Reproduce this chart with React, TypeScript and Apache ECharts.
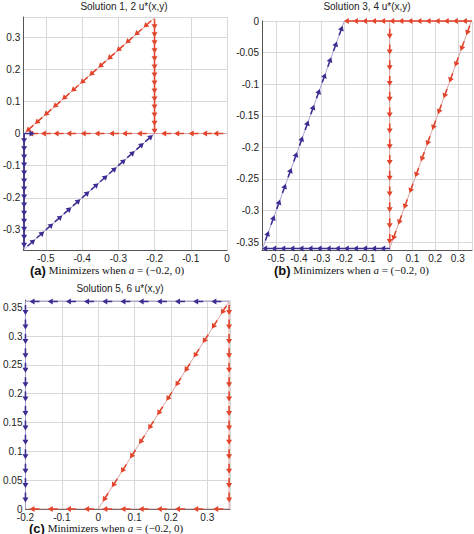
import React, { useEffect, useRef } from "react";
import * as echarts from "echarts";

// ---------- styling constants ----------
const RED = "#e2452c";
const BLUE = "#3b2d92";
const RED_LINE = "#d9a7a3";
const BLUE_LINE = "#aaa5d2";
const ARROW = "path://M5 0 L10 8 L6.3 8 L6.3 16 L3.7 16 L3.7 8 L0 8 Z";

// ---------- titles / captions ----------
const titles = ["Solution 1, 2 u*(x,y)", "Solution 3, 4 u*(x,y)", "Solution 5, 6 u*(x,y)"];
const panelTags = ["(a)", "(b)", "(c)"];

// ---------- panel (a) ----------
const aRedPath = [[0, 0], [-0.56, 0], [-0.2, 0.36], [-0.2, 0]];
const aBluePath = [[-0.53, 0], [-0.56, 0], [-0.56, -0.36], [-0.2, 0]];
const aRedHoriz = [[-0.535, 0], [-0.5, 0], [-0.465, 0], [-0.43, 0], [-0.39, 0], [-0.352, 0], [-0.312, 0], [-0.276, 0], [-0.235, 0], [-0.168, 0], [-0.132, 0], [-0.092, 0], [-0.055, 0], [-0.024, 0]];
const aRedVert = [[-0.2, 0.34], [-0.2, 0.315], [-0.2, 0.29], [-0.2, 0.265], [-0.2, 0.24], [-0.2, 0.215], [-0.2, 0.19], [-0.2, 0.165], [-0.2, 0.14], [-0.2, 0.115], [-0.2, 0.09], [-0.2, 0.065], [-0.2, 0.04], [-0.2, 0.015]];
const aRedDiag = [[-0.545, 0.015], [-0.52, 0.04], [-0.495, 0.065], [-0.47, 0.09], [-0.445, 0.115], [-0.42, 0.14], [-0.395, 0.165], [-0.37, 0.19], [-0.345, 0.215], [-0.32, 0.24], [-0.295, 0.265], [-0.27, 0.29], [-0.245, 0.315], [-0.22, 0.34]];
const aBlueVert = [[-0.56, -0.015], [-0.56, -0.04], [-0.56, -0.065], [-0.56, -0.09], [-0.56, -0.115], [-0.56, -0.14], [-0.56, -0.165], [-0.56, -0.19], [-0.56, -0.215], [-0.56, -0.24], [-0.56, -0.265], [-0.56, -0.29], [-0.56, -0.315], [-0.56, -0.34]];
const aBlueDiag = [[-0.215, -0.015], [-0.24, -0.04], [-0.265, -0.065], [-0.29, -0.09], [-0.315, -0.115], [-0.34, -0.14], [-0.365, -0.165], [-0.39, -0.19], [-0.415, -0.215], [-0.44, -0.24], [-0.465, -0.265], [-0.49, -0.29], [-0.515, -0.315], [-0.54, -0.34]];
const aBlueStub = [[-0.545, 0]];

// ---------- panel (b) ----------
const bRedPath = [[-0.2, 0], [0.36, 0], [0, -0.36], [0, 0]];
const bBluePath = [[-0.2, 0], [-0.56, -0.36], [0, -0.36]];
const bRedHoriz = [[-0.18, 0], [-0.14, 0], [-0.1, 0], [-0.06, 0], [-0.02, 0], [0.02, 0], [0.06, 0], [0.1, 0], [0.14, 0], [0.18, 0], [0.22, 0], [0.26, 0], [0.3, 0], [0.34, 0]];
const bRedVert = [[0, -0.02], [0, -0.045], [0, -0.07], [0, -0.095], [0, -0.12], [0, -0.145], [0, -0.17], [0, -0.195], [0, -0.22], [0, -0.245], [0, -0.27], [0, -0.295], [0, -0.32], [0, -0.345]];
const bRedDiag = [[0.345, -0.015], [0.32, -0.04], [0.295, -0.065], [0.27, -0.09], [0.245, -0.115], [0.22, -0.14], [0.195, -0.165], [0.17, -0.19], [0.145, -0.215], [0.12, -0.24], [0.095, -0.265], [0.07, -0.29], [0.045, -0.315], [0.02, -0.34]];
const bBlueDiag = [[-0.215, -0.015], [-0.24, -0.04], [-0.265, -0.065], [-0.29, -0.09], [-0.315, -0.115], [-0.34, -0.14], [-0.365, -0.165], [-0.39, -0.19], [-0.415, -0.215], [-0.44, -0.24], [-0.465, -0.265], [-0.49, -0.29], [-0.515, -0.315], [-0.54, -0.34]];
const bBlueHoriz = [[-0.54, -0.36], [-0.5, -0.36], [-0.46, -0.36], [-0.42, -0.36], [-0.38, -0.36], [-0.34, -0.36], [-0.3, -0.36], [-0.26, -0.36], [-0.22, -0.36], [-0.18, -0.36], [-0.14, -0.36], [-0.1, -0.36], [-0.06, -0.36], [-0.02, -0.36]];

// ---------- panel (c) ----------
const cBluePath = [[0.36, 0.36], [-0.2, 0.36], [-0.2, 0]];
const cRedPath = [[0, 0], [0.36, 0.36], [0.36, 0], [-0.2, 0]];
const cBlueHoriz = [[-0.175, 0.36], [-0.125, 0.36], [-0.075, 0.36], [-0.025, 0.36], [0.025, 0.36], [0.075, 0.36], [0.125, 0.36], [0.175, 0.36], [0.225, 0.36], [0.275, 0.36], [0.325, 0.36]];
const cBlueVert = [[-0.2, 0.345], [-0.2, 0.32], [-0.2, 0.295], [-0.2, 0.27], [-0.2, 0.245], [-0.2, 0.22], [-0.2, 0.195], [-0.2, 0.17], [-0.2, 0.145], [-0.2, 0.12], [-0.2, 0.095], [-0.2, 0.07], [-0.2, 0.045], [-0.2, 0.02]];
const cRedVert = [[0.36, 0.345], [0.36, 0.32], [0.36, 0.295], [0.36, 0.27], [0.36, 0.245], [0.36, 0.22], [0.36, 0.195], [0.36, 0.17], [0.36, 0.145], [0.36, 0.12], [0.36, 0.095], [0.36, 0.07], [0.36, 0.045], [0.36, 0.02]];
const cRedHoriz = [[-0.175, 0], [-0.125, 0], [-0.075, 0], [-0.025, 0], [0.025, 0], [0.075, 0], [0.125, 0], [0.175, 0], [0.225, 0], [0.275, 0], [0.33, 0]];
const cRedDiag = [[0.02, 0.02], [0.045, 0.045], [0.07, 0.07], [0.095, 0.095], [0.12, 0.12], [0.145, 0.145], [0.17, 0.17], [0.195, 0.195], [0.22, 0.22], [0.245, 0.245], [0.27, 0.27], [0.295, 0.295], [0.32, 0.32], [0.345, 0.345]];

// axis extents
const xExt = [[-0.5625, 0], [-0.5625, 0.3625], [-0.2, 0.3625]];
const yExt = [[-0.3625, 0.3625], [-0.3625, 0], [0, 0.3625]];
const xSplit = [5, 9, 5];
const ySplit = [7, 7, 7];

const FONT = "'Liberation Sans', Arial, sans-serif";
const SERIF = "'Liberation Serif', 'DejaVu Serif', serif";

function pathSeries(idx: number, data: number[][], color: string) {
  return {
    type: "line",
    xAxisIndex: idx,
    yAxisIndex: idx,
    data,
    showSymbol: false,
    symbol: "none",
    lineStyle: { color, width: 1 },
    silent: true,
    z: 2,
  };
}

function arrowSeries(idx: number, data: number[][], color: string, rotate: number) {
  return {
    type: "scatter",
    xAxisIndex: idx,
    yAxisIndex: idx,
    data,
    symbol: ARROW,
    symbolSize: [6, 10],
    symbolRotate: rotate,
    itemStyle: { color, opacity: 1 },
    silent: true,
    z: 3,
  };
}

const LEFT = 90;
const DOWN = 180;
const RIGHT = -90;

export default function App() {
  const ref = useRef<HTMLDivElement>(null);
  useEffect(() => {
    if (!ref.current) return;
    const chart = echarts.init(ref.current, undefined, { renderer: "svg" });
    const grids = [
      { left: 19, top: 17, width: 208, height: 233 },
      { left: 262, top: 21, width: 210, height: 229 },
      { left: 20, top: 300, width: 210, height: 209 },
    ];
    const axisCommon = {
      axisLine: { show: true, onZero: false, lineStyle: { color: "#555", width: 1 } },
      axisTick: { show: false },
      splitLine: { show: true, lineStyle: { color: "#d8d8d8", width: 1 } },
    };
    const xAxis = [0, 1, 2].map((i) => ({
      type: "value",
      gridIndex: i,
      min: xExt[i][0],
      max: xExt[i][1],
      splitNumber: xSplit[i],
      ...axisCommon,
      axisLabel: {
        color: "#222",
        fontSize: 10,
        fontFamily: FONT,
        margin: 3,
        showMinLabel: i === 2,
        showMaxLabel: i === 0,
      },
    }));
    const yAxis = [0, 1, 2].map((i) => ({
      type: "value",
      gridIndex: i,
      min: yExt[i][0],
      max: yExt[i][1],
      splitNumber: ySplit[i],
      ...axisCommon,
      axisLabel: {
        color: "#222",
        fontSize: 10,
        fontFamily: FONT,
        margin: 3,
        showMinLabel: i === 2,
        showMaxLabel: i === 1,
      },
    }));

    const series = [
      pathSeries(0, aRedPath, RED_LINE),
      pathSeries(0, aBluePath, BLUE_LINE),
      arrowSeries(0, aRedHoriz, RED, LEFT),
      arrowSeries(0, aRedVert, RED, DOWN),
      arrowSeries(0, aRedDiag, RED, 131),
      arrowSeries(0, aBlueVert, BLUE, DOWN),
      arrowSeries(0, aBlueDiag, BLUE, -49),
      arrowSeries(0, aBlueStub, BLUE, RIGHT),

      pathSeries(1, bRedPath, RED_LINE),
      pathSeries(1, bBluePath, BLUE_LINE),
      arrowSeries(1, bRedHoriz, RED, LEFT),
      arrowSeries(1, bRedVert, RED, DOWN),
      arrowSeries(1, bRedDiag, RED, 160),
      arrowSeries(1, bBlueDiag, BLUE, -20),
      arrowSeries(1, bBlueHoriz, BLUE, LEFT),

      pathSeries(2, cBluePath, BLUE_LINE),
      pathSeries(2, cRedPath, RED_LINE),
      arrowSeries(2, cBlueHoriz, BLUE, LEFT),
      arrowSeries(2, cBlueVert, BLUE, DOWN),
      arrowSeries(2, cRedVert, RED, DOWN),
      arrowSeries(2, cRedHoriz, RED, LEFT),
      arrowSeries(2, cRedDiag, RED, 147),
    ];

    const titlePos = [
      [124, 6],
      [367, 6],
      [120, 288],
    ];
    const capPos = [
      [30, 270],
      [274, 270],
      [29, 528],
    ];
    const rich = {
      b: { fontFamily: FONT, fontWeight: "bold", fontSize: 13, fill: "#111", color: "#111" },
      s: { fontFamily: SERIF, fontSize: 11, fill: "#111", color: "#111" },
      i: { fontFamily: SERIF, fontStyle: "italic", fontSize: 11, fill: "#111", color: "#111" },
    };
    const graphic: any[] = [];
    for (let i = 0; i < 3; i++) {
      graphic.push({
        type: "text",
        x: titlePos[i][0],
        y: titlePos[i][1],
        z: 10,
        style: {
          text: titles[i],
          fontFamily: FONT,
          fontSize: 10,
          fill: "#222",
          align: "center",
          verticalAlign: "middle",
        },
      });
      graphic.push({
        type: "text",
        x: capPos[i][0],
        y: capPos[i][1],
        z: 10,
        style: {
          text: `{b|${panelTags[i]}}{s| Minimizers when }{i|a}{s| = (−0.2, 0)}`,
          rich,
          align: "left",
          verticalAlign: "middle",
        },
      });
    }

    chart.setOption({
      animation: false,
      backgroundColor: "#ffffff",
      grid: grids,
      xAxis,
      yAxis,
      series,
      graphic,
    });
    return () => chart.dispose();
  }, []);
  return (
    <div
      ref={ref}
      style={{ position: "absolute", left: 0, top: 0, width: 474, height: 534 }}
    />
  );
}
